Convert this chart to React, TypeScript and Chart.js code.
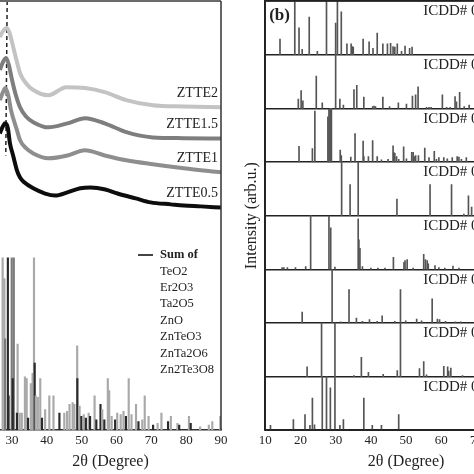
import React, { useEffect, useRef } from "react";
import { Chart, registerables } from "chart.js";

Chart.register(...registerables);

const FONT = "'Liberation Serif', 'Times New Roman', serif";

// ---------- Panel (a): XRD curves ----------
const leftTicks = [30, 40, 50, 60, 70, 80, 90];
const sampleNames = ["ZTTE2", "ZTTE1.5", "ZTTE1", "ZTTE0.5"];
const sampleColors = ["#c3c3c3", "#7e7e7e", "#8e8e8e", "#0d0d0d"];

const ztte2: [number, number][] = [
  [26.5, 98], [27.4, 99.5], [28.5, 100.3], [29.3, 99], [30.2, 96], [31.2, 92.5], [32.3, 89],
  [34.0, 86.5], [36.1, 84.8], [40.4, 83.5], [45.6, 85.5], [51.0, 85.3], [56.6, 84.3],
  [62.8, 82.3], [70.4, 81], [79.3, 80.7], [90, 80.5],
];
const ztte15: [number, number][] = [
  [26.5, 89.8], [27.4, 91.8], [28.3, 92.8], [29.1, 91], [30.0, 87.3], [31.1, 83.5], [32.3, 80.5],
  [34.0, 78.2], [36.1, 76.8], [40.4, 75.5], [45.9, 76.5], [51.0, 77.8], [56.6, 76.5],
  [62.8, 74.3], [70.4, 73], [79.3, 72.8], [90, 72.7],
];
const ztte1: [number, number][] = [
  [26.5, 82.3], [27.4, 84.3], [28.1, 85.3], [28.9, 83.5], [29.7, 79.8], [31.4, 74.8], [32.3, 72.3],
  [34.0, 70.3], [36.1, 69], [40.4, 67.8], [45.9, 68.5], [50.9, 69.8], [56.6, 68.5],
  [62.8, 67.3], [70.4, 66.3], [79.3, 65.3], [90, 64.3],
];
const ztte05: [number, number][] = [
  [26.5, 74], [27.4, 75.8], [28.0, 76.5], [28.8, 75.3], [29.4, 71.5], [30.3, 68.5], [31.4, 64.8],
  [32.3, 63], [33.5, 61.8], [36.1, 60.3], [39.5, 59], [42.4, 58.5], [45.9, 59.3], [49.6, 60.3],
  [52.5, 60.5], [56.8, 60], [60.3, 59], [65.5, 57.8], [69.8, 56.8], [75.6, 56.3],
  [79.3, 56], [84.2, 55.8], [90, 55.5],
];
const curves = [ztte2, ztte15, ztte1, ztte05];
const peakMarker: [number, number][] = [[28.6, 107], [28.2, 68.5]];

// Sum of reference patterns (2θ, relative intensity, tone)
const sumAngles = [
  27.3, 27.8, 28.0, 28.8, 29.0, 29.9, 30.5, 30.2, 31.6, 31.4, 32.2, 32.8, 33.7, 34.2, 34.6, 35.4,
  35.9, 36.3, 36.5, 36.8, 37.4, 38.1, 38.6, 39.5, 40.7, 41.9, 43.6, 45.0, 45.8, 46.5, 47.4, 47.9,
  48.7, 48.75, 49.4, 49.9, 50.6, 51.2, 52.0, 52.4, 53.7, 54.2, 55.4, 55.9, 56.5, 57.5, 57.9, 58.6,
  59.6, 60.2, 61.2, 62.0, 62.7, 63.5, 64.3, 65.6, 66.3, 67.4, 68.1, 69.2, 70.5, 71.8, 72.9, 74.8,
  75.6, 77.5, 78.0, 80.8, 81.3, 84.0, 86.5, 87.5, 89.8,
];
const sumIntensity = [
  100, 88, 53, 100, 20, 100, 100, 30, 50, 10, 10, 10, 31, 30, 7, 27,
  33, 100, 39, 20, 19, 30, 7, 12, 20, 20, 10, 10, 11, 15, 16, 15,
  49, 30, 14, 8, 9, 7, 10, 8, 20, 6, 15, 12, 6, 30, 23, 8,
  6, 10, 9, 11, 8, 30, 9, 15, 5, 6, 20, 8, 3, 4, 10, 5,
  8, 4, 3, 8, 4, 2, 3, 5, 8,
];
const sumTone = [
  "L", "L", "M", "D", "D", "M", "M", "D", "L", "D", "L", "L", "L", "L", "D", "L",
  "L", "L", "D", "L", "L", "L", "D", "L", "L", "L", "D", "L", "L", "L", "L", "L",
  "L", "D", "L", "D", "L", "D", "L", "D", "L", "D", "D", "L", "D", "L", "L", "L",
  "D", "L", "L", "L", "D", "L", "L", "L", "D", "L", "L", "L", "D", "L", "L", "D",
  "L", "L", "D", "L", "D", "L", "L", "L", "L",
];
const toneColors: Record<string, string> = { L: "#a9a9a9", M: "#7a7a7a", D: "#2a2a2a" };
const legendTitle = "Sum of";
const phaseNames = ["TeO2", "Er2O3", "Ta2O5", "ZnO", "ZnTeO3", "ZnTa2O6", "Zn2Te3O8"];

// ---------- Panel (b): ICDD reference patterns ----------
const rightTicks = [10, 20, 30, 40, 50, 60, 70, 80, 90];
const icddCodes = [
  "ICDD# 00-042-1365", "ICDD# 00-043-1007", "ICDD# 00-025-0922", "ICDD# 00-036-1451",
  "ICDD# 00-044-0240", "ICDD# 00-039-1484", "ICDD# 00-049-1207", "ICDD# 00-022-0988",
];
const ref1: [number, number][] = [
  [14.2, 29], [18.4, 100], [19.6, 50], [20.5, 10], [22.5, 70], [24.8, 6], [27.4, 100], [30.0, 59],
  [30.5, 100], [31.6, 80], [33.2, 20], [34.4, 20], [34.7, 15], [35.0, 14], [37.8, 29], [39.5, 24],
  [40.6, 12], [41.8, 40], [43.4, 20], [44.7, 20], [45.6, 21], [46.3, 15], [46.8, 14], [47.5, 20],
  [48.7, 6], [49.7, 16], [51.0, 12], [51.7, 14],
];
const ref2: [number, number][] = [
  [19.4, 17], [20.2, 33], [20.7, 14], [24.5, 60], [26.2, 10], [30.0, 100], [31.2, 17], [32.2, 6],
  [35.2, 35], [36.0, 43], [38.0, 21], [40.5, 3], [40.9, 4], [41.3, 3], [43.4, 21], [45.3, 3],
  [47.8, 10], [50.1, 8], [51.8, 23], [52.7, 25], [53.4, 40], [55.8, 2], [56.5, 2], [57.1, 2],
  [60.3, 25], [61.5, 2], [62.5, 2], [63.9, 22], [64.3, 12], [65.2, 30], [66.5, 3], [67.9, 6],
];
const ref3: [number, number][] = [
  [19.6, 29], [23.4, 25], [24.1, 95], [27.8, 84], [28.1, 98], [28.4, 100], [28.6, 100], [28.8, 100],
  [31.3, 22], [31.6, 12], [34.3, 9], [35.5, 53], [37.8, 39], [38.0, 10], [39.3, 10], [40.5, 40],
  [41.8, 10], [43.0, 4], [44.9, 5], [46.3, 30], [46.5, 18], [46.8, 16], [47.3, 10], [47.9, 5],
  [49.3, 28], [50.1, 6], [51.6, 18], [52.0, 18], [52.3, 10], [52.7, 12], [53.5, 12], [55.3, 26],
  [56.5, 8], [58.0, 20], [58.6, 5], [59.3, 8], [60.7, 8], [61.7, 6], [63.1, 8], [64.5, 10],
  [65.0, 9], [65.7, 5], [67.1, 8],
];
const ref4: [number, number][] = [
  [31.7, 100], [34.1, 58], [36.4, 100], [47.4, 31], [56.8, 58], [62.9, 58], [66.4, 3],
  [67.7, 37], [68.6, 16],
];
const ref5: [number, number][] = [
  [14.8, 3], [15.3, 3], [16.3, 3], [18.6, 3], [21.5, 5], [22.9, 100], [28.1, 99], [28.6, 77],
  [29.8, 4], [36.4, 94], [36.6, 55], [36.9, 39], [37.6, 5], [40.0, 2], [42.0, 2], [44.0, 2],
  [46.4, 22], [49.4, 13], [49.7, 16], [50.3, 18], [52.0, 2], [55.0, 28], [55.5, 18], [56.0, 16],
  [56.3, 10], [58.2, 7], [59.3, 3], [61.0, 2], [63.3, 6], [65.0, 2],
];
const ref6: [number, number][] = [
  [20.5, 20], [29.0, 100], [31.4, 2], [33.8, 62], [35.9, 9], [37.6, 3], [39.6, 6], [41.8, 3],
  [43.2, 13], [46.8, 3], [48.4, 62], [49.9, 4], [53.0, 7], [54.4, 4], [57.4, 45], [58.9, 7],
  [59.5, 6], [61.2, 3], [64.0, 2], [65.5, 2],
];
const ref7: [number, number][] = [
  [21.9, 18], [26.0, 100], [29.8, 100], [35.2, 2], [37.3, 36], [39.3, 8], [43.5, 4], [47.5, 11],
  [48.4, 100], [53.8, 15], [55.0, 28], [55.8, 3], [60.7, 19], [61.8, 18], [62.1, 10], [62.7, 16],
  [66.0, 2],
];
const ref8: [number, number][] = [
  [11.5, 9], [18.0, 20], [21.3, 29], [22.7, 9], [23.4, 60], [24.0, 10], [26.2, 100], [27.4, 100],
  [28.5, 79], [29.8, 100], [31.2, 9], [32.2, 20], [38.0, 60], [40.4, 9], [43.0, 9], [47.9, 29],
];
const refPatterns = [ref1, ref2, ref3, ref4, ref5, ref6, ref7, ref8];

const leftDecor = {
  id: "leftDecor",
  afterDraw(chart: any) {
    const { ctx, chartArea } = chart;
    const y = chart.scales.y;
    ctx.save();
    ctx.strokeStyle = "#6a6a6a";
    ctx.lineWidth = 2;
    ctx.beginPath();
    ctx.moveTo(chartArea.left - 5, chartArea.top);
    ctx.lineTo(chartArea.right, chartArea.top);
    ctx.stroke();
    ctx.strokeStyle = "#333";
    ctx.lineWidth = 1.5;
    ctx.beginPath();
    ctx.moveTo(chartArea.right, chartArea.top);
    ctx.lineTo(chartArea.right, chartArea.bottom);
    ctx.stroke();
    ctx.fillStyle = "#222";
    ctx.font = `14px ${FONT}`;
    ctx.textAlign = "right";
    ctx.textBaseline = "middle";
    curves.forEach((c, i) => {
      const last = c[c.length - 1];
      ctx.fillText(sampleNames[i], chartArea.right - 3, y.getPixelForValue(last[1]) - 14);
    });
    const lx = chartArea.right - 61;
    let ly = chartArea.top + 254;
    ctx.strokeStyle = "#444";
    ctx.lineWidth = 2;
    ctx.beginPath();
    ctx.moveTo(chartArea.right - 83, ly);
    ctx.lineTo(chartArea.right - 68, ly);
    ctx.stroke();
    ctx.textAlign = "left";
    ctx.font = `bold 12.5px ${FONT}`;
    ctx.fillText(legendTitle, lx, ly);
    ctx.font = `12.5px ${FONT}`;
    phaseNames.forEach((n) => {
      ly += 16.4;
      ctx.fillText(n, lx, ly);
    });
    ctx.restore();
  },
};

const rightDecor = {
  id: "rightDecor",
  afterDraw(chart: any) {
    const { ctx, chartArea } = chart;
    const y = chart.scales.y;
    ctx.save();
    ctx.strokeStyle = "#222";
    ctx.lineWidth = 1.5;
    ctx.strokeRect(chartArea.left, chartArea.top, chartArea.right - chartArea.left, chartArea.bottom - chartArea.top);
    ctx.fillStyle = "#222";
    ctx.font = `15px ${FONT}`;
    ctx.textAlign = "left";
    ctx.textBaseline = "middle";
    icddCodes.forEach((t, i) => {
      ctx.fillText(t, chartArea.left + 158, y.getPixelForValue(8 - i) + 10.5);
    });
    ctx.font = `bold 17px ${FONT}`;
    ctx.fillText("(b)", chartArea.left + 4, chartArea.top + 15);
    ctx.restore();
  },
};

const xAxisCommon = {
  type: "linear",
  offset: false,
  grid: { display: false, drawTicks: false },
  ticks: { font: { family: FONT, size: 13 }, color: "#222", padding: 3, maxRotation: 0, autoSkip: false },
  title: { display: true, text: "2θ (Degree)", font: { family: FONT, size: 16 }, color: "#222", padding: { top: 0, bottom: 3 } },
};

function LeftPanel() {
  const ref = useRef<HTMLCanvasElement>(null);
  useEffect(() => {
    const chart = new Chart(ref.current as HTMLCanvasElement, {
      type: "bar",
      data: {
        datasets: [
          ...curves.map((c, i) => ({
            type: "line" as const,
            label: sampleNames[i],
            data: c.map(([x, v]) => ({ x, y: v })),
            borderColor: sampleColors[i],
            borderWidth: 4,
            pointRadius: 0,
            cubicInterpolationMode: "monotone" as const,
            yAxisID: "y",
          })),
          {
            type: "line" as const,
            label: "peak",
            data: peakMarker.map(([x, v]) => ({ x, y: v })),
            borderColor: "#222",
            borderWidth: 1.5,
            borderDash: [4, 3],
            pointRadius: 0,
            yAxisID: "y",
          },
          {
            type: "bar" as const,
            label: "Sum of",
            data: sumAngles.map((x, i) => ({ x, y: sumIntensity[i] })),
            backgroundColor: sumTone.map((t) => toneColors[t]),
            borderWidth: 0,
            barThickness: 1.5,
            grouped: false,
            yAxisID: "y2",
          },
        ] as any,
      },
      options: {
        animation: false,
        responsive: false,
        maintainAspectRatio: false,
        layout: { padding: { top: 1, right: 19, bottom: 0, left: 0 } },
        plugins: { legend: { display: false }, tooltip: { enabled: false } },
        scales: {
          x: {
            ...xAxisCommon,
            min: 26.54,
            max: 90,
            afterBuildTicks: (axis: any) => {
              axis.ticks = leftTicks.map((v) => ({ value: v }));
            },
            border: { display: true, color: "#333", width: 1.5 },
          },
          y: { display: false, min: 0, max: 107 },
          y2: { display: false, min: 0, max: 249 },
        },
      } as any,
      plugins: [leftDecor],
    });
    return () => chart.destroy();
  }, []);
  return <canvas ref={ref} width={240} height={474} style={{ position: "absolute", left: 0, top: 0, width: 240, height: 474 }} />;
}

function RightPanel() {
  const ref = useRef<HTMLCanvasElement>(null);
  useEffect(() => {
    const chart = new Chart(ref.current as HTMLCanvasElement, {
      type: "bar",
      data: {
        datasets: refPatterns.map((p, i) => ({
          label: icddCodes[i],
          data: p.map(([x, v]) => ({ x, y: [7 - i, 7 - i + v / 100] })),
          backgroundColor: "#555",
          borderWidth: 0,
          barThickness: 1,
          grouped: false,
        })) as any,
      },
      options: {
        animation: false,
        responsive: false,
        maintainAspectRatio: false,
        layout: { padding: { top: 1, right: 11, bottom: 0, left: 0 } },
        plugins: { legend: { display: false }, tooltip: { enabled: false } },
        scales: {
          x: {
            ...xAxisCommon,
            min: 10,
            max: 90,
            afterBuildTicks: (axis: any) => {
              axis.ticks = rightTicks.map((v) => ({ value: v }));
            },
            border: { display: true, color: "#222", width: 1.5 },
          },
          y: {
            min: 0,
            max: 8,
            ticks: { display: false, stepSize: 1 },
            grid: { display: true, color: "#222", lineWidth: 1.5, drawTicks: false },
            border: { display: true, color: "#222", width: 1.5 },
            title: { display: true, text: "Intensity (arb.u.)", font: { family: FONT, size: 16 }, color: "#222", padding: { top: 4, bottom: 4 } },
          },
        },
      } as any,
      plugins: [rightDecor],
    });
    return () => chart.destroy();
  }, []);
  return <canvas ref={ref} width={320} height={474} style={{ position: "absolute", left: 238, top: 0, width: 320, height: 474 }} />;
}

export default function App() {
  return (
    <div style={{ position: "fixed", left: 0, top: 0, width: 474, height: 474, overflow: "hidden", background: "#fff" }}>
      <LeftPanel />
      <RightPanel />
    </div>
  );
}
